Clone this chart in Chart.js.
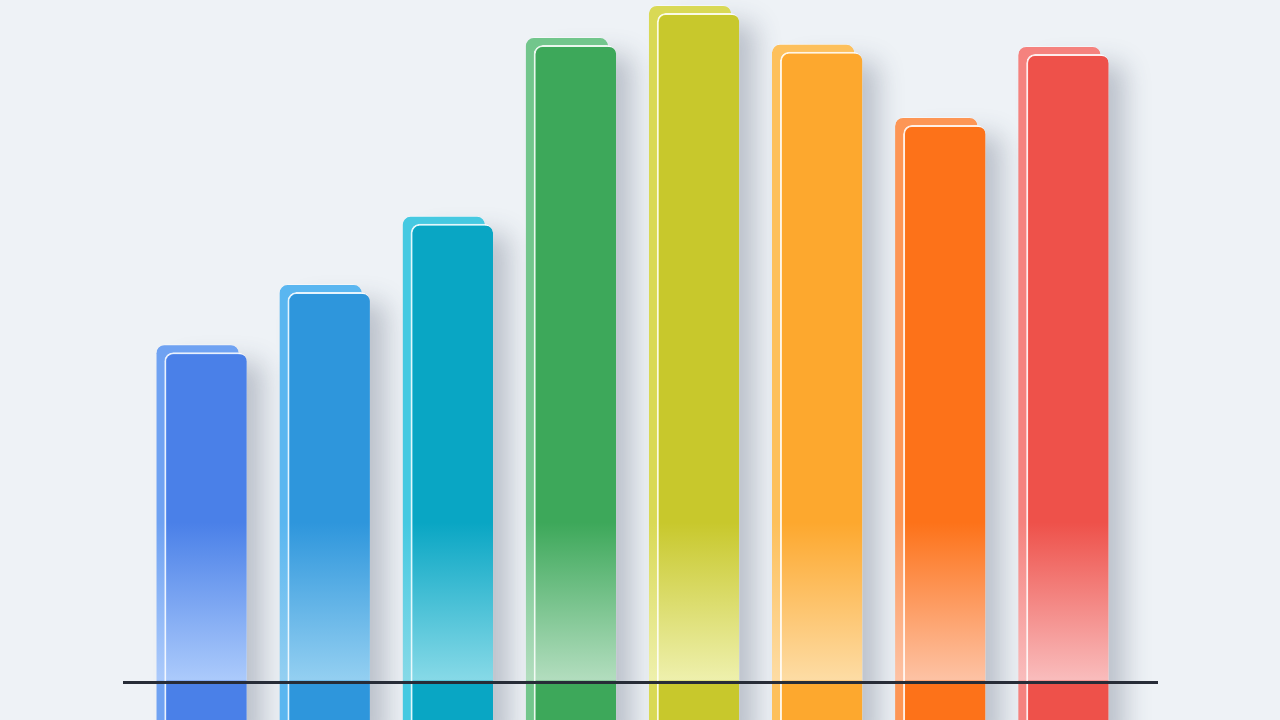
<!DOCTYPE html>
<html>
<head>
<meta charset="utf-8">
<script src="https://cdn.jsdelivr.net/npm/chart.js@4.4.1/dist/chart.umd.min.js"></script>
<style>
  html, body { margin: 0; padding: 0; background: #eef2f6; overflow: hidden; }
  #chart { display: block; }
</style>
</head>
<body>
<canvas id="chart" width="1280" height="720"></canvas>
<script>
const categories = ['A', 'B', 'C', 'D', 'E', 'F', 'G', 'H'];
const values = [48.4, 57.2, 67.2, 93.4, 98.1, 92.4, 81.7, 92.1];

const frontColors = ['#4a80e8', '#2e96dc', '#09a6c4', '#3da85a', '#c8c82c', '#fda82e', '#fd7219', '#ee514a'];
const lightColors = ['#abcafb', '#93cff1', '#86d9e7', '#b2ddbe', '#eef0ac', '#fddca4', '#fdc2a4', '#f9bcbc'];
const backColors = ['#6fa2f2', '#5ab6f0', '#45c9e1', '#72c68c', '#d9d955', '#fdc05c', '#fd9655', '#f5827e'];

function fade(base, light, c, shift) {
    const chart = c.chart;
    const y = chart.scales.y;
    if (!y || !chart.chartArea) return base;
    const zero = y.getPixelForValue(0) + shift;
    const h = chart.height;
    if (!isFinite(zero) || !h) return base;
    const g = chart.ctx.createLinearGradient(0, 0, 0, h);
    g.addColorStop(0, base);
    g.addColorStop(Math.max(0, (zero - 160) / h), base);
    g.addColorStop(Math.max(0, (zero - 3) / h), light);
    g.addColorStop(Math.min(1, zero / h), base);
    g.addColorStop(1, base);
    return g;
}

// dataset 0 = front, 1 = back layer (up-left), 2 = shadow caster
const layers = {
    id: 'layers',
    beforeDatasetDraw(chart, args) {
        const ctx = chart.ctx;
        ctx.save();
        if (args.index === 1) {
            ctx.translate(-8, -8);
        } else if (args.index === 2) {
            ctx.shadowColor = 'rgba(55, 65, 90, 0.28)';
            ctx.shadowBlur = 26;
            ctx.shadowOffsetX = 16;
            ctx.shadowOffsetY = 10;
        }
    },
    afterDatasetDraw(chart) {
        chart.ctx.restore();
    },
    afterDatasetsDraw(chart) {
        const ctx = chart.ctx;
        const y = chart.scales.y.getPixelForValue(0);
        const area = chart.chartArea;
        ctx.save();
        ctx.strokeStyle = '#272c37';
        ctx.lineWidth = 3;
        ctx.beginPath();
        ctx.moveTo(area.left - 21, y);
        ctx.lineTo(area.right + 29, y);
        ctx.stroke();
        ctx.restore();
    }
};

const common = {
    data: values,
    base: -8,
    borderSkipped: false,
    borderRadius: { topLeft: 9, topRight: 9, bottomLeft: 0, bottomRight: 0 },
    barPercentage: 0.67,
    categoryPercentage: 1,
    grouped: false,
    clip: false,
};

new Chart(document.getElementById('chart').getContext('2d'), {
    type: 'bar',
    data: {
        labels: categories,
        datasets: [
            {
                ...common,
                backgroundColor: (c) => fade(frontColors[c.dataIndex], lightColors[c.dataIndex], c, 0),
                borderColor: 'rgba(255, 255, 255, 0.85)',
                borderWidth: { left: 2, top: 2, right: 0, bottom: 0 },
            },
            {
                ...common,
                backgroundColor: (c) => fade(backColors[c.dataIndex], lightColors[c.dataIndex], c, 8),
                borderColor: 'rgba(255, 255, 255, 0.45)',
                borderWidth: { left: 0, top: 1, right: 0, bottom: 0 },
            },
            {
                ...common,
                backgroundColor: '#dfe4ea',
                borderWidth: 0,
            },
        ],
    },
    options: {
        responsive: false,
        animation: false,
        events: [],
        layout: { padding: { left: 144, right: 151, top: 0, bottom: 0 } },
        scales: {
            x: { display: false },
            y: { display: false, min: -5.5, max: 100 },
        },
        plugins: {
            legend: { display: false },
            tooltip: { enabled: false },
        },
    },
    plugins: [layers],
});
</script>
</body>
</html>
